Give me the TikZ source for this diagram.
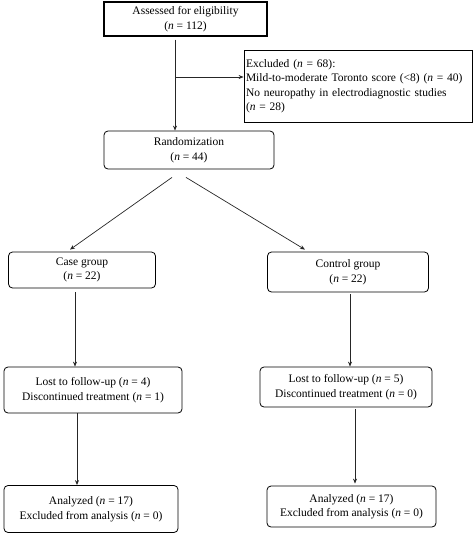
\documentclass[tikz,border=0pt]{standalone}
\usepackage{fontspec}
\setmainfont{Liberation Serif}
\usepackage{tikz}
\usetikzlibrary{arrows.meta}

\begin{document}
\begin{tikzpicture}[x=1pt, y=-1pt,
				   every node/.style={font=\fontsize{11.5}{14.5}\selectfont, align=center, inner sep=2pt},
				   box/.style={draw=black, line width=0.8pt},
				   rbox/.style={draw=black, line width=0.8pt, rounded corners=4pt},
				   arr/.style={draw=black!85, line width=0.7pt, -{Stealth[length=5pt, width=4pt]}}]
\useasboundingbox (0,0) rectangle (474,536);
% top of the chart
\node[box, line width=1.3pt, minimum width=163pt, minimum height=34pt] (assess) at (185.5,19)
	{Assessed for eligibility\\(\textit{n} = 112)};
\node[box, align=left, text width=224pt, minimum height=72pt] (excl) at (358,86)
	{Excluded (\textit{n} = 68):\\
	Mild-to-moderate Toronto score (<8) (\textit{n} = 40)\\
	No neuropathy in electrodiagnostic studies\\
	(\textit{n} = 28)};
\node[rbox, minimum width=170pt, minimum height=38pt] (rand) at (189,150)
	{Randomization\\(\textit{n} = 44)};
% the two arms
\node[rbox, minimum width=147pt, minimum height=36pt] (case) at (82,270)
	{Case group\\(\textit{n} = 22)};
\node[rbox, minimum width=161pt, minimum height=40pt] (ctrl) at (348,272)
	{Control group\\(\textit{n} = 22)};
\node[rbox, minimum width=178pt, minimum height=46pt] (lostA) at (93,390)
	{Lost to follow-up (\textit{n} = 4)\\Discontinued treatment (\textit{n} = 1)};
\node[rbox, minimum width=172pt, minimum height=40pt] (lostB) at (346,387)
	{Lost to follow-up (\textit{n} = 5)\\Discontinued treatment (\textit{n} = 0)};
\node[rbox, minimum width=174pt, minimum height=47pt] (anaA) at (91,509)
	{Analyzed (\textit{n} = 17)\\Excluded from analysis (\textit{n} = 0)};
\node[rbox, minimum width=169pt, minimum height=41pt] (anaB) at (351.5,506.5)
	{Analyzed (\textit{n} = 17)\\Excluded from analysis (\textit{n} = 0)};
% connectors
\coordinate (trunk) at (175,0);
\coordinate (fork) at (175,77);
\draw[arr] ([yshift=-3pt]trunk |- assess.south) -- (trunk |- rand.north);
\draw[arr] (fork) -- (fork -| excl.west);
\draw[arr] ([xshift=-17pt, yshift=-8pt]rand.south) -- ([xshift=-12pt, yshift=2pt]case.north);
\draw[arr] ([xshift=-3pt, yshift=-8pt]rand.south) -- ([xshift=-43pt, yshift=2pt]ctrl.north);
\draw[arr] ([xshift=-7pt, yshift=-4pt]case.south) -- ([xshift=-18pt]lostA.north);
\draw[arr] ([xshift=2pt, yshift=-2pt]ctrl.south) -- ([xshift=4pt]lostB.north);
\draw[arr] ([xshift=-16pt]lostA.south) -- ([xshift=-14pt]anaA.north);
\draw[arr] ([xshift=9pt, yshift=-2pt]lostB.south) -- ([xshift=3.5pt, yshift=2pt]anaB.north);
\end{tikzpicture}
\end{document}
